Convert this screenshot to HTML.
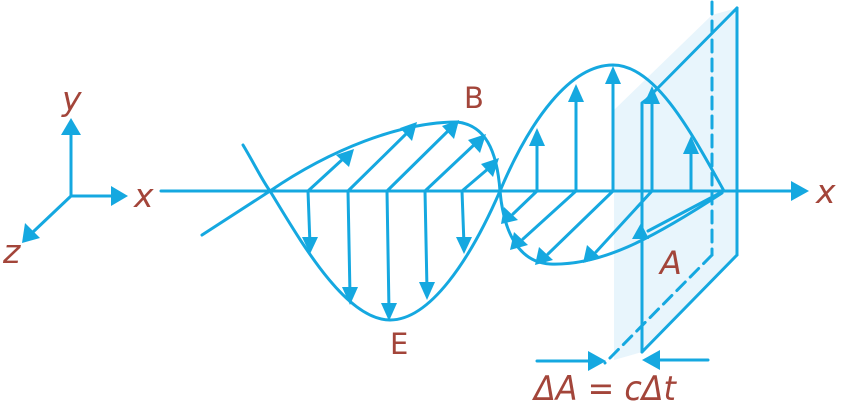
<!DOCTYPE html>
<html><head><style>
html,body{margin:0;padding:0;background:#fff;}
svg{display:block}
text{font-family:"DejaVu Sans","Liberation Sans",sans-serif;fill:#a3453a;}
</style></head><body>
<svg width="849" height="411" viewBox="0 0 849 411" xmlns="http://www.w3.org/2000/svg">
<polygon points="614,110 712,15 737,8 737,255 642,352 614,360" fill="#e8f5fc"/>
<g stroke="#15a8e0" stroke-width="3" fill="none" stroke-linecap="round" stroke-linejoin="round">
<line x1="71" y1="196" x2="71" y2="128"/>
<polygon points="61,135 81,135 71,118" fill="#15a8e0" stroke="none"/>
<line x1="71" y1="196" x2="118" y2="196"/>
<polygon points="111,186 111,206 128,196" fill="#15a8e0" stroke="none"/>
<line x1="71" y1="196" x2="33" y2="232"/>
<polygon points="25,223 40,238 22,243" fill="#15a8e0" stroke="none"/>
<line x1="161" y1="191" x2="798" y2="191"/>
<polygon points="791,181 791,201 809,191" fill="#15a8e0" stroke="none"/>
<path d="M243,145 C255,165 262,180 270,191 C300,240 345,320 390,320 C430,320 470,260 500,191 C530,120 570,65 613,65 C655,65 690,130 724,191"/>
<path d="M202,235 L270,191 C330,150 400,122 457,122 C485,125 497,150 500,191 C503,225 515,262 550,264 C600,266 650,240 722,193"/>
<line x1="737" y1="8" x2="737" y2="255"/>
<line x1="642" y1="352" x2="737" y2="255"/>
<polyline points="642,352 642,103 646,100 737,8"/>
<line x1="712" y1="2" x2="712" y2="255" stroke-dasharray="12,7"/>
<line x1="712" y1="255" x2="605" y2="363" stroke-dasharray="12,7"/>
<line x1="308" y1="191" x2="310" y2="245"/>
<line x1="348" y1="191" x2="350" y2="295"/>
<line x1="387" y1="191" x2="389" y2="311"/>
<line x1="425" y1="191" x2="427" y2="290"/>
<line x1="462" y1="191" x2="464" y2="245"/>
<line x1="308" y1="191" x2="344" y2="158"/>
<line x1="348" y1="191" x2="408" y2="132"/>
<line x1="387" y1="191" x2="450" y2="129"/>
<line x1="425" y1="191" x2="476" y2="143"/>
<line x1="462" y1="191" x2="489" y2="168"/>
<line x1="537" y1="191" x2="537" y2="138"/>
<line x1="576" y1="191" x2="576" y2="94"/>
<line x1="613" y1="191" x2="613" y2="76"/>
<line x1="652" y1="191" x2="652" y2="96"/>
<line x1="691" y1="191" x2="691" y2="146"/>
<line x1="537" y1="191" x2="513" y2="214"/>
<line x1="576" y1="191" x2="523" y2="239"/>
<line x1="613" y1="191" x2="548" y2="254"/>
<line x1="652" y1="191" x2="596" y2="252"/>
<line x1="720" y1="193" x2="648" y2="231"/>
<line x1="537" y1="361" x2="590" y2="361"/>
<polygon points="588,351 588,371 606,361" fill="#15a8e0" stroke="none"/>
<line x1="708" y1="360" x2="658" y2="360"/>
<polygon points="660,350 660,370 642,360" fill="#15a8e0" stroke="none"/>
</g>
<g fill="#15a8e0">
<polygon points="302,237 318,237 310,254"/>
<polygon points="342,287 358,287 350,305"/>
<polygon points="381,303 397,303 389,321"/>
<polygon points="419,282 435,282 427,300"/>
<polygon points="456,237 472,237 464,254"/>
<polygon points="336,155 349,167 354,149"/>
<polygon points="400,128 412,141 417,122"/>
<polygon points="442,126 454,139 459,120"/>
<polygon points="468,140 480,153 486,134"/>
<polygon points="481,164 493,177 499,158"/>
<polygon points="529,146 545,146 537,128"/>
<polygon points="568,102 584,102 576,84"/>
<polygon points="605,84 621,84 613,66"/>
<polygon points="644,104 660,104 652,86"/>
<polygon points="683,154 699,154 691,136"/>
<polygon points="504,207 518,220 501,224"/>
<polygon points="514,232 528,245 510,250"/>
<polygon points="539,247 553,260 535,265"/>
<polygon points="587,245 601,258 583,263"/>
<polygon points="641,223 649,239 632,239"/>
</g>
<text x="62" y="110" font-size="33" font-style="italic">y</text>
<text x="134" y="207" font-size="33" font-style="italic">x</text>
<text x="3" y="263" font-size="33" font-style="italic">z</text>
<text x="464" y="108" font-size="29">B</text>
<text x="390" y="354" font-size="29">E</text>
<text x="816" y="203" font-size="33" font-style="italic">x</text>
<text x="660" y="274" font-size="32" font-style="italic">A</text>
<text x="534" y="400" font-size="34" font-style="italic" textLength="142" lengthAdjust="spacingAndGlyphs">ΔA = cΔt</text>
</svg>
</body></html>
